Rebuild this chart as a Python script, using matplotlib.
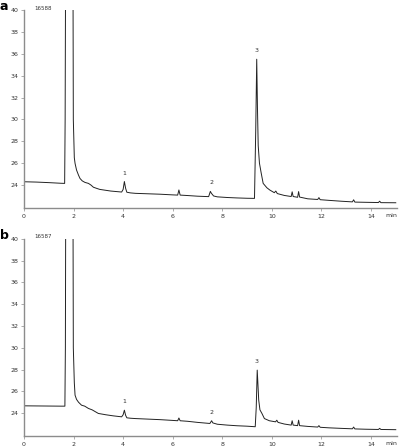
import numpy as np
import matplotlib
matplotlib.use("Agg")
import matplotlib.pyplot as plt

# chromatogram a (sample 16588): time (min), signal
t_a = [0.0, 0.5, 1.0, 1.5, 1.64, 1.66, 1.70, 1.96, 1.99, 2.03, 2.06, 2.12, 2.2, 2.26, 2.35,
       2.46, 2.6, 2.7, 2.8, 2.95, 3.06, 3.5, 3.94, 4.0, 4.05, 4.1, 4.15, 4.3, 4.5,
       5.0, 5.5, 6.0, 6.2, 6.25, 6.3, 6.6, 7.0, 7.45, 7.52, 7.56, 7.65, 7.8, 8.2,
       8.6, 9.0, 9.3, 9.35, 9.39, 9.42, 9.45, 9.5, 9.57, 9.65, 9.8, 9.92, 10.1,
       10.16, 10.22, 10.5, 10.78, 10.82, 10.86, 11.04, 11.08, 11.12, 11.45, 11.85,
       11.9, 11.95, 12.3, 12.8, 13.25, 13.3, 13.35, 13.8, 14.3, 14.35, 14.4, 15.0]
y_a = [24.3, 24.27, 24.22, 24.16, 24.15, 30.0, 60.0, 60.0, 30.0, 26.5, 25.98, 25.37, 24.9, 24.6, 24.38,
       24.24, 24.15, 24.0, 23.8, 23.68, 23.6, 23.45, 23.36, 23.6, 24.32, 23.7, 23.34, 23.28, 23.24,
       23.2, 23.16, 23.1, 23.08, 23.55, 23.08, 23.04, 22.98, 22.94, 23.42, 23.25, 23.0, 22.92, 22.86,
       22.82, 22.79, 22.78, 29.0, 35.5, 31.0, 27.6, 26.0, 25.1, 24.15, 23.75, 23.54, 23.3,
       23.45, 23.22, 23.05, 22.95, 23.38, 22.95, 22.88, 23.4, 22.9, 22.74, 22.68,
       22.85, 22.66, 22.6, 22.52, 22.46, 22.65, 22.44, 22.42, 22.4, 22.52, 22.39, 22.38]

# chromatogram b (sample 16587)
t_b = [0.0, 0.5, 1.0, 1.5, 1.65, 1.67, 1.70, 1.96, 1.99, 2.03, 2.06, 2.12, 2.2, 2.32,
       2.45, 2.6, 2.75, 3.0, 3.3, 3.6, 3.94, 4.0, 4.05, 4.1, 4.15, 4.3, 4.5,
       5.0, 5.5, 6.0, 6.2, 6.25, 6.3, 6.6, 7.0, 7.5, 7.57, 7.62, 7.8, 8.2,
       8.6, 9.0, 9.33, 9.37, 9.41, 9.44, 9.47, 9.52, 9.6, 9.7, 9.9, 10.15,
       10.2, 10.25, 10.5, 10.78, 10.82, 10.86, 11.04, 11.08, 11.12, 11.45, 11.85,
       11.9, 11.95, 12.3, 12.8, 13.25, 13.3, 13.35, 13.8, 14.3, 14.35, 14.4, 15.0]
y_b = [24.67, 24.66, 24.65, 24.64, 24.64, 30.0, 60.0, 60.0, 30.0, 26.8, 25.65, 25.26, 25.0, 24.73,
       24.64, 24.43, 24.3, 23.97, 23.85, 23.75, 23.66, 23.85, 24.27, 23.8, 23.57, 23.53, 23.5,
       23.45, 23.4, 23.33, 23.3, 23.55, 23.3, 23.25, 23.15, 23.05, 23.3, 23.1, 22.98, 22.9,
       22.84, 22.8, 22.75, 24.5, 27.95, 26.6, 25.2, 24.3, 23.97, 23.5, 23.3, 23.2,
       23.35, 23.15, 23.0, 22.9, 23.3, 22.9, 22.85, 23.35, 22.85, 22.78, 22.72,
       22.85, 22.7, 22.65, 22.6, 22.56, 22.72, 22.55, 22.52, 22.5, 22.6, 22.5, 22.48]

# numbered peaks
peak_t = [4.05, 7.55, 9.4]
peak_lab = ["1", "2", "3"]

yticks = [24, 26, 28, 30, 32, 34, 36, 38, 40]
xticks = [0, 2, 4, 6, 8, 10, 12, 14]

fig = plt.figure(figsize=(4, 4.48), dpi=100)
ax_a = fig.add_axes([0.06, 0.5357, 0.9325, 0.442])
ax_b = fig.add_axes([0.06, 0.0268, 0.9325, 0.44])

def draw(ax, t, y, sample, letter, fy):
    ax.plot(t, y, color="#222222", lw=0.7)
    ax.set_xlim(0, 15.05)
    ax.set_ylim(21.9, 40)
    ax.set_yticks(yticks)
    ax.set_xticks(xticks)
    for s in ["top", "right"]:
        ax.spines[s].set_visible(False)
    for s in ["left", "bottom"]:
        ax.spines[s].set_color("#8c8c8c")
        ax.spines[s].set_linewidth(1.0)
    ax.tick_params(labelsize=4.5, length=2, width=0.5, colors="#8c8c8c",
                   labelcolor="#333333", pad=2)
    ax.text(1.0, -0.027, "min", transform=ax.transAxes, fontsize=4.5,
            color="#333333", ha="right", va="top")
    # peak numbers
    tt = np.array(t); yy = np.array(y)
    for pt, lab in zip(peak_t, peak_lab):
        near = np.abs(tt - pt) < 0.12
        ax.text(pt, yy[near].max() + 0.55, lab, fontsize=4.5, ha="center",
                va="bottom", color="#333333")
    fig.text(0.085, fy - 0.003, sample, fontsize=4, color="#333333", va="center")
    fig.text(0.0, fy, letter, fontsize=9, fontweight="bold", va="center")

draw(ax_a, t_a, y_a, "16588", "a", 0.985)
draw(ax_b, t_b, y_b, "16587", "b", 0.475)

fig.savefig("out.png", dpi=100)
